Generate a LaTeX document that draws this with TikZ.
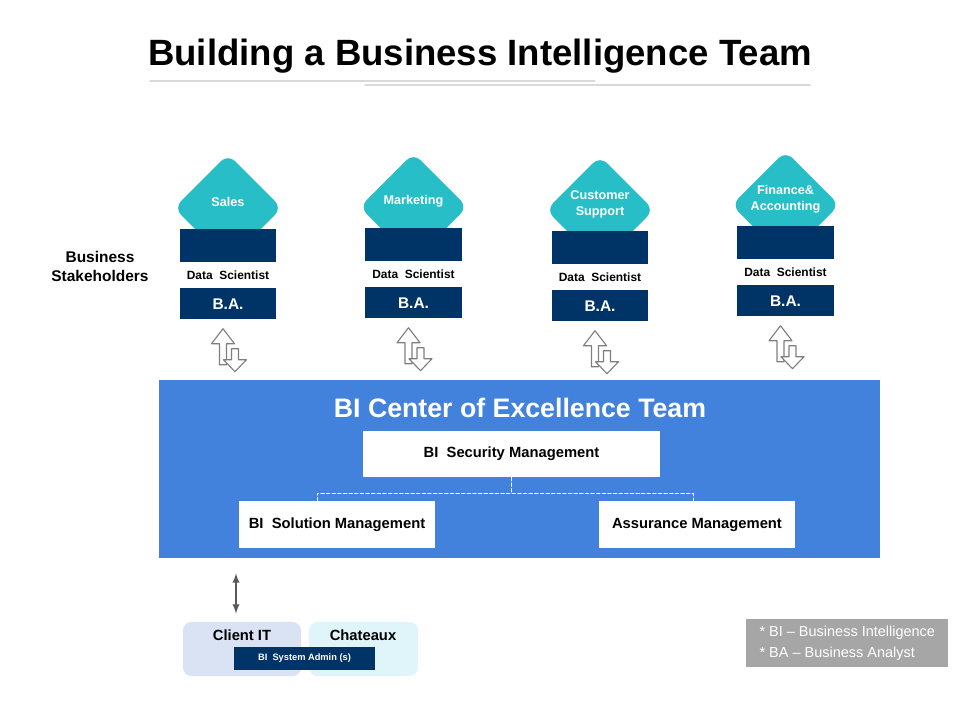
\documentclass[tikz,border=0pt]{standalone}
\usepackage{fontspec}
\setmainfont{Liberation Sans}
\usepackage{xcolor}
\usepackage{tikz}
\usetikzlibrary{positioning, shapes.geometric}
\definecolor{bi_navy}{HTML}{003366}
\definecolor{bi_teal}{HTML}{27BEC8}
\definecolor{bi_blue}{HTML}{4382DC}
\definecolor{bi_arrow}{HTML}{7F7F7F}
\definecolor{bi_dark}{HTML}{595959}
\definecolor{bi_client}{HTML}{DAE3F3}
\definecolor{bi_chateau}{HTML}{E0F5F9}
\definecolor{bi_legend}{HTML}{A6A6A6}
\definecolor{bi_rule}{HTML}{D9D9D9}

\begin{document}
\begin{tikzpicture}[
        x=0.025cm,
        y=-0.025cm,
        line cap=round,
        line join=round,
        node distance=0pt,
        dept/.style={diamond, fill=bi_teal, rounded corners=7pt,
            minimum width=2.7cm, minimum height=2.7cm, inner sep=0pt},
        depttext/.style={text=white, align=center,
            font=\fontsize{9}{11.4}\selectfont\bfseries},
        navybox/.style={fill=bi_navy, minimum width=2.4cm,
            minimum height=0.825cm, inner sep=0pt},
        dsbox/.style={fill=white, minimum width=2.4cm, minimum height=0.625cm,
            inner sep=0pt, font=\fontsize{8.5}{10}\selectfont\bfseries},
        babox/.style={fill=bi_navy, text=white, minimum width=2.4cm,
            minimum height=0.775cm, inner sep=0pt,
            font=\fontsize{11}{13}\selectfont\bfseries},
        mgmt/.style={fill=white, minimum height=1.15cm, inner sep=0pt,
            font=\fontsize{10.5}{12}\selectfont\bfseries},
        unit/.style={rounded corners=6pt, minimum height=1.35cm, inner sep=0pt},
        unittext/.style={font=\fontsize{10.5}{12}\selectfont\bfseries},
        hollow/.style={draw=bi_arrow, fill=white, line width=0.8pt},
        updown/.pic={
            \draw[hollow] (-5,9) -- (6.5,24) -- (-1.5,24) -- (-1.5,45)
                -- (-8.5,45) -- (-8.5,24) -- (-16.5,24) -- cycle;
            \draw[hollow] (7,52) -- (18.5,40) -- (10.5,40) -- (10.5,29)
                -- (3.5,29) -- (3.5,40) -- (-4.5,40) -- cycle;
        }
    ]
    \useasboundingbox (0,0) rectangle (960,720);

    % Title
    \node[font=\fontsize{26}{30}\selectfont\bfseries] (title) at (480,56)
        {Building a Business Intelligence Team};
    \draw[bi_rule, line width=0.8pt] (150,81) -- (595,81);
    \draw[bi_rule, line width=0.8pt] (365,85) -- (810,85);

    \node[align=center, font=\fontsize{11}{13.5}\selectfont\bfseries] (stake)
        at (100,266.5) {Business\\Stakeholders};

    % Sales
    \node[dept] (sales) at (228,208) {};
    \node[depttext] (sales_txt) at ([yshift=0.15cm]sales.center) {Sales};
    \node[navybox, anchor=north] (sales_top) at ([yshift=-0.525cm]sales.center) {};
    \node[dsbox, below=of sales_top] (sales_ds) {Data\ \ Scientist};
    \node[babox, below=of sales_ds] (sales_ba) {B.A.};
    \pic at (sales_ba.south) {updown};

    % Marketing
    \node[dept] (mkt) at (413.5,207) {};
    \node[depttext] (mkt_txt) at ([yshift=0.15cm]mkt.center) {Marketing};
    \node[navybox, anchor=north] (mkt_top) at ([yshift=-0.525cm]mkt.center) {};
    \node[dsbox, below=of mkt_top] (mkt_ds) {Data\ \ Scientist};
    \node[babox, below=of mkt_ds] (mkt_ba) {B.A.};
    \pic at (mkt_ba.south) {updown};

    % Customer Support
    \node[dept] (cs) at (600,210) {};
    \node[depttext] (cs_txt) at ([yshift=0.15cm]cs.center) {Customer\\Support};
    \node[navybox, anchor=north] (cs_top) at ([yshift=-0.525cm]cs.center) {};
    \node[dsbox, below=of cs_top] (cs_ds) {Data\ \ Scientist};
    \node[babox, below=of cs_ds] (cs_ba) {B.A.};
    \pic at (cs_ba.south) {updown};

    % Finance & Accounting
    \node[dept] (fin) at (785.5,205) {};
    \node[depttext] (fin_txt) at ([yshift=0.15cm]fin.center) {Finance\&\\Accounting};
    \node[navybox, anchor=north] (fin_top) at ([yshift=-0.525cm]fin.center) {};
    \node[dsbox, below=of fin_top] (fin_ds) {Data\ \ Scientist};
    \node[babox, below=of fin_ds] (fin_ba) {B.A.};
    \pic at (fin_ba.south) {updown};

    % Center of excellence
    \node[fill=bi_blue, minimum width=18.025cm, minimum height=4.45cm] (coe)
        at (519.5,469) {};
    \node[text=white, font=\fontsize{19}{22}\selectfont\bfseries] (coe_title)
        at (520,408) {BI Center of Excellence Team};
    \node[mgmt, minimum width=7.425cm] (security) at (511.5,454)
        {BI\ \ Security Management};
    \node[mgmt, minimum width=4.9cm, minimum height=1.175cm] (solution)
        at (337,524.5) {BI\ \ Solution Management};
    \node[mgmt, minimum width=4.9cm, minimum height=1.175cm] (assurance)
        at (697,524.5) {Assurance Management};

    \coordinate (split) at ([yshift=-0.4cm]security.south);
    \draw[white, line width=0.6pt, dash pattern=on 2.5pt off 1.5pt]
        (security.south) -- (split);
    \draw[white, line width=0.6pt, dash pattern=on 2.5pt off 1.5pt]
        ([xshift=-0.5cm]solution.north) |- (split) -| ([xshift=-0.1cm]assurance.north);

    % Client IT and Chateaux
    \node[unit, fill=bi_client, minimum width=2.95cm] (client) at (242,649) {};
    \node[unit, fill=bi_chateau, minimum width=2.725cm] (chateaux) at (363.5,649) {};
    \node[unittext] (client_txt) at (242,635) {Client IT};
    \node[unittext] (chateaux_txt) at (363,635) {Chateaux};
    \node[fill=bi_navy, text=white, minimum width=3.525cm, minimum height=0.575cm,
        inner sep=0pt, font=\fontsize{6.6}{8}\selectfont\bfseries] (admin)
        at (304.5,658.5) {BI\ \ System Admin (s)};

    \coordinate (link) at (solution.south -| client.north);
    \draw[<->, >=latex, line width=1.3pt, bi_dark]
        ([shift={(-6,25)}]link) -- ([shift={(-6,-8)}]client.north);

    % Legend
    \node[fill=bi_legend, text=white, anchor=west, minimum width=5.05cm,
        minimum height=1.2cm, align=left,
        font=\fontsize{10.3}{15}\selectfont] (legend) at (746,643)
        {* BI -- Business Intelligence\\{}* BA -- Business Analyst};
\end{tikzpicture}
\end{document}
